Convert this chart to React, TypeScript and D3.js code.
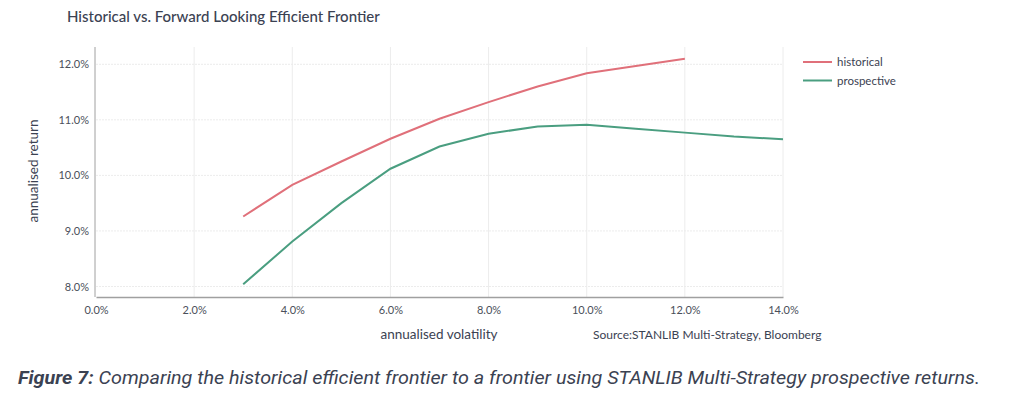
import { useEffect, useRef } from "react";
import * as d3 from "d3";

const volatility = [3, 4, 5, 6, 7, 8, 9, 10, 11, 12, 13, 14];
const historical = [9.26, 9.83, 10.25, 10.66, 11.02, 11.32, 11.6, 11.84, 11.97, 12.1];
const prospective = [8.04, 8.81, 9.5, 10.12, 10.52, 10.75, 10.88, 10.91, 10.84, 10.77, 10.7, 10.65];
const xTicks = [0, 2, 4, 6, 8, 10, 12, 14];
const yTicks = [8, 9, 10, 11, 12];
const seriesNames = ["historical", "prospective"];
const seriesColors = ["#e0707a", "#4a9e80"];

const FONT = "Lato, 'Open Sans', sans-serif";

const App = () => {
  const ref = useRef<SVGSVGElement | null>(null);

  useEffect(() => {
    if (!ref.current) return;
    const svg = d3.select(ref.current);
    svg.selectAll("*").remove();

    const left = 96;
    const right = 783;
    const top = 47;
    const bottom = 297;

    const x = d3.scaleLinear().domain([0, 14]).range([left, right]);
    const y = d3.scaleLinear().domain([8, 12]).range([286.5, 64.3]);

    // title
    svg
      .append("text")
      .attr("x", 67)
      .attr("y", 22)
      .attr("font-family", FONT)
      .attr("font-size", 15)
      .attr("font-weight", 500)
      .attr("fill", "#3b4252")
      .text("Historical vs. Forward Looking Efficient Frontier");

    // grid
    const grid = svg.append("g");
    grid
      .selectAll("line.gx")
      .data(xTicks.slice(1))
      .join("line")
      .attr("x1", (d) => x(d))
      .attr("x2", (d) => x(d))
      .attr("y1", top)
      .attr("y2", bottom)
      .attr("stroke", "#ececec")
      .attr("stroke-width", 1);
    grid
      .selectAll("line.gy")
      .data(yTicks)
      .join("line")
      .attr("x1", left)
      .attr("x2", right)
      .attr("y1", (d) => y(d))
      .attr("y2", (d) => y(d))
      .attr("stroke", "#ececec")
      .attr("stroke-dasharray", "2,1")
      .attr("stroke-width", 1);

    // axes
    const xAxis = svg
      .append("g")
      .attr("transform", `translate(0,${bottom})`)
      .call(
        d3
          .axisBottom(x)
          .tickValues(xTicks)
          .tickSize(0)
          .tickPadding(9)
          .tickFormat((d) => `${(+d).toFixed(1)}%`)
      );
    xAxis.select(".domain").attr("stroke", "#a0a0a0").attr("stroke-width", 1.5);

    const yAxis = svg
      .append("g")
      .attr("transform", `translate(${left - 1},0)`)
      .call(
        d3
          .axisLeft(y)
          .tickValues(yTicks)
          .tickSize(0)
          .tickPadding(6)
          .tickFormat((d) => `${(+d).toFixed(1)}%`)
      );
    yAxis
      .select(".domain")
      .attr("d", `M0,${top}V${bottom}`)
      .attr("stroke", "#a0a0a0")
      .attr("stroke-width", 1);

    svg
      .selectAll(".tick text")
      .attr("font-family", FONT)
      .attr("font-size", 11)
      .attr("fill", "#4a4f5a");

    // axis labels
    svg
      .append("text")
      .attr("transform", "translate(38,171) rotate(-90)")
      .attr("text-anchor", "middle")
      .attr("font-family", FONT)
      .attr("font-size", 13.5)
      .attr("fill", "#3b4252")
      .text("annualised return");

    svg
      .append("text")
      .attr("x", 439)
      .attr("y", 339)
      .attr("text-anchor", "middle")
      .attr("font-family", FONT)
      .attr("font-size", 13.5)
      .attr("fill", "#3b4252")
      .text("annualised volatility");

    svg
      .append("text")
      .attr("x", 593)
      .attr("y", 339)
      .attr("font-family", FONT)
      .attr("font-size", 12)
      .attr("fill", "#3b4252")
      .text("Source:STANLIB Multi-Strategy, Bloomberg");

    // lines
    const line = d3
      .line<[number, number]>()
      .x((d) => x(d[0]))
      .y((d) => y(d[1]));

    const series = [historical, prospective];
    series.forEach((vals, i) => {
      const pts = vals.map((v, j) => [volatility[j], v] as [number, number]);
      svg
        .append("path")
        .datum(pts)
        .attr("d", line)
        .attr("fill", "none")
        .attr("stroke", seriesColors[i])
        .attr("stroke-width", 2);
    });

    // legend
    const legend = svg.append("g").attr("transform", "translate(803,62)");
    seriesNames.forEach((name, i) => {
      const g = legend.append("g").attr("transform", `translate(0,${i * 18.5})`);
      g.append("line")
        .attr("x1", 0)
        .attr("x2", 29)
        .attr("y1", 0)
        .attr("y2", 0)
        .attr("stroke", seriesColors[i])
        .attr("stroke-width", 2);
      g.append("text")
        .attr("x", 34)
        .attr("y", 4)
        .attr("font-family", FONT)
        .attr("font-size", 11.5)
        .attr("fill", "#3b4252")
        .text(name);
    });

    // caption
    const cap = svg
      .append("text")
      .attr("x", 18)
      .attr("y", 384)
      .attr("font-family", "Roboto, sans-serif")
      .attr("font-style", "italic")
      .attr("font-size", 18)
      .attr("fill", "#3b4252")
      .attr("textLength", 962)
      .attr("lengthAdjust", "spacingAndGlyphs");
    cap.append("tspan").attr("font-weight", "bold").text("Figure 7:");
    cap
      .append("tspan")
      .text(
        " Comparing the historical efficient frontier to a frontier using STANLIB Multi-Strategy prospective returns."
      );
  }, []);

  return (
    <svg
      ref={ref}
      width={1024}
      height={406}
      style={{ position: "absolute", left: 0, top: 0, background: "#fff" }}
    ></svg>
  );
};

export default App;
